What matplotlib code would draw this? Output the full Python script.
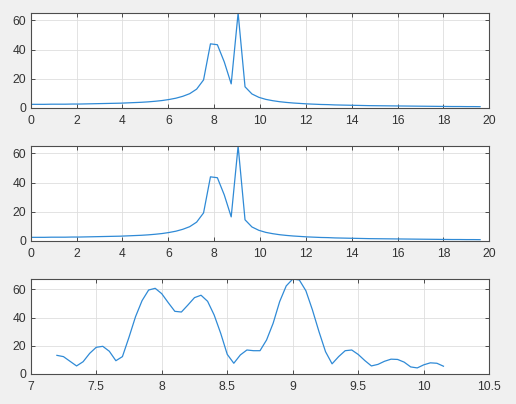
import numpy as np
import matplotlib.pyplot as plt

# spectrum (shown twice, top and middle panels)
df = 0.3015
spec = [2.5, 2.5, 2.5, 2.6, 2.6, 2.6, 2.7, 2.7, 2.8, 2.9,
        3.0, 3.1, 3.2, 3.3, 3.5, 3.7, 3.9, 4.2, 4.6, 5.1,
        5.8, 6.7, 8.0, 9.8, 12.9, 19.2, 43.9, 43.3, 31.5, 16.5,
        65.0, 14.5, 9.6, 7.3, 5.9, 5.0, 4.3, 3.8, 3.4, 3.1,
        2.8, 2.6, 2.4, 2.3, 2.1, 2.0, 1.9, 1.8, 1.7, 1.6,
        1.55, 1.5, 1.45, 1.4, 1.35, 1.3, 1.25, 1.2, 1.15, 1.1,
        1.05, 1.0, 1.0, 0.95, 0.95, 0.9]
freq = np.arange(len(spec)) * df

# zoomed, finer spectrum (bottom panel)
zoom_start, zoom_step = 7.2, 0.05
zoom_spec = [13.2, 12.3, 9.0, 5.7, 8.7, 14.6, 18.9, 19.6, 16.1, 9.4,
             12.3, 26.0, 40.6, 52.0, 59.5, 60.7, 56.9, 50.5, 44.4, 43.9,
             48.9, 54.1, 55.8, 51.5, 41.8, 28.8, 13.9, 7.6, 13.5, 17.0,
             16.5, 16.5, 24.1, 35.9, 51.3, 62.4, 67.3, 66.6, 59.0, 45.4,
             30.0, 15.8, 7.2, 12.3, 16.5, 17.0, 13.8, 9.5, 5.7, 6.8,
             9.0, 10.5, 10.3, 8.4, 5.0, 4.3, 6.5, 7.9, 7.6, 5.5]
zoom_freq = zoom_start + np.arange(len(zoom_spec)) * zoom_step

plt.rcParams["font.family"] = ["Liberation Sans", "DejaVu Sans"]
plt.rcParams["font.size"] = 8.7

BG = "#f0f0f0"
AX = "#333333"
LINE = "#2f8ad6"

fig = plt.figure(figsize=(5.16, 4.04), dpi=100, facecolor=BG)

left, width, height = 0.0595, 0.8888, 0.2351
bottoms = [0.7327, 0.4035, 0.0743]


def style(ax):
    ax.set_facecolor("white")
    for s in ax.spines.values():
        s.set_color("#4d4d4d")
        s.set_linewidth(0.8)
    ax.tick_params(direction="in", length=3, width=0.6, color=AX,
                   labelcolor=AX, top=True, right=True)
    ax.tick_params(axis="x", pad=5)
    ax.tick_params(axis="y", pad=3.4)
    ax.grid(True, color="#dedede", linewidth=0.6)
    ax.set_axisbelow(True)


for b in bottoms[:2]:
    ax = fig.add_axes([left, b, width, height])
    ax.plot(freq, spec, color=LINE, lw=0.9)
    ax.set_xlim(0, 20)
    ax.set_ylim(0, max(spec))
    ax.set_xticks(np.arange(0, 21, 2))
    ax.set_yticks([0, 20, 40, 60])
    style(ax)

ax = fig.add_axes([left, bottoms[2], width, height])
ax.plot(zoom_freq, zoom_spec, color=LINE, lw=0.9)
ax.set_xlim(7, 10.5)
ax.set_ylim(0, max(zoom_spec))
ax.set_xticks([7, 7.5, 8, 8.5, 9, 9.5, 10, 10.5])
ax.set_xticklabels(["7", "7.5", "8", "8.5", "9", "9.5", "10", "10.5"])
ax.set_yticks([0, 20, 40, 60])
style(ax)

fig.savefig("out.png", dpi=100, facecolor=BG)
